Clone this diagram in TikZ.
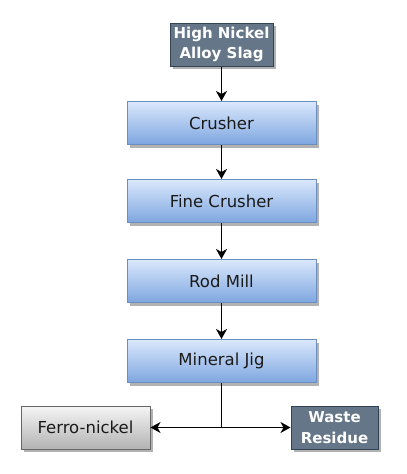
\documentclass[tikz,border=0pt]{standalone}
\usepackage{fontspec}
\setmainfont{DejaVu Sans}
\usetikzlibrary{arrows.meta,shadows}
\definecolor{bluetop}{HTML}{DAE8FC}
\definecolor{bluebot}{HTML}{7EA6E0}
\definecolor{blueline}{HTML}{6C8EBF}
\definecolor{darkfill}{HTML}{647687}
\definecolor{darkline}{HTML}{314354}
\definecolor{graytop}{HTML}{F5F5F5}
\definecolor{graybot}{HTML}{B3B3B3}
\definecolor{grayline}{HTML}{666666}
\definecolor{txt}{HTML}{1A1A1A}
\tikzset{
  base/.style={rectangle, minimum height=43pt, inner sep=0pt, align=center,
    font=\fontsize{16.5}{21}\selectfont, line width=1pt,
    drop shadow={shadow xshift=3pt, shadow yshift=-3pt, fill=black!30, opacity=1}},
  bluebox/.style={base, draw=blueline, top color=bluetop, bottom color=bluebot, text=txt, minimum width=189pt},
  darkbox/.style={base, draw=darkline, fill=darkfill, text=white, font=\bfseries\fontsize{15}{20.5}\selectfont},
  graybox/.style={base, draw=grayline, top color=graytop, bottom color=graybot, text=txt},
  flow/.style={line width=1.5pt, -{Stealth[length=10pt, width=11pt, inset=3pt]}},
  plain/.style={line width=1.5pt}
}
\begin{document}
\begin{tikzpicture}[x=1pt,y=-1pt]
\useasboundingbox[fill=white] (0,0) rectangle (407,474);
\node[darkbox, minimum width=103pt] (slag) at (221.5,44.5) {High Nickel\\Alloy Slag};
\node[bluebox] (crusher) at (221.5,123) {Crusher};
\node[bluebox] (fine) at (221.5,201) {Fine Crusher};
\node[bluebox] (rod) at (221.5,281) {Rod Mill};
\node[bluebox] (jig) at (221.5,361) {Mineral Jig};
\node[graybox, minimum width=129pt] (ferro) at (85.5,427.5) {Ferro-nickel};
\node[darkbox, minimum width=87pt] (waste) at (334.5,427.5) {Waste\\Residue};
\coordinate (j) at (221.5,427.5);
\draw[flow] (slag) -- (crusher);
\draw[flow] (crusher) -- (fine);
\draw[flow] (fine) -- (rod);
\draw[flow] (rod) -- (jig);
\draw[plain] (jig) -- (j);
\draw[flow] (j) -- (ferro);
\draw[flow] (j) -- (waste);
\end{tikzpicture}
\end{document}
